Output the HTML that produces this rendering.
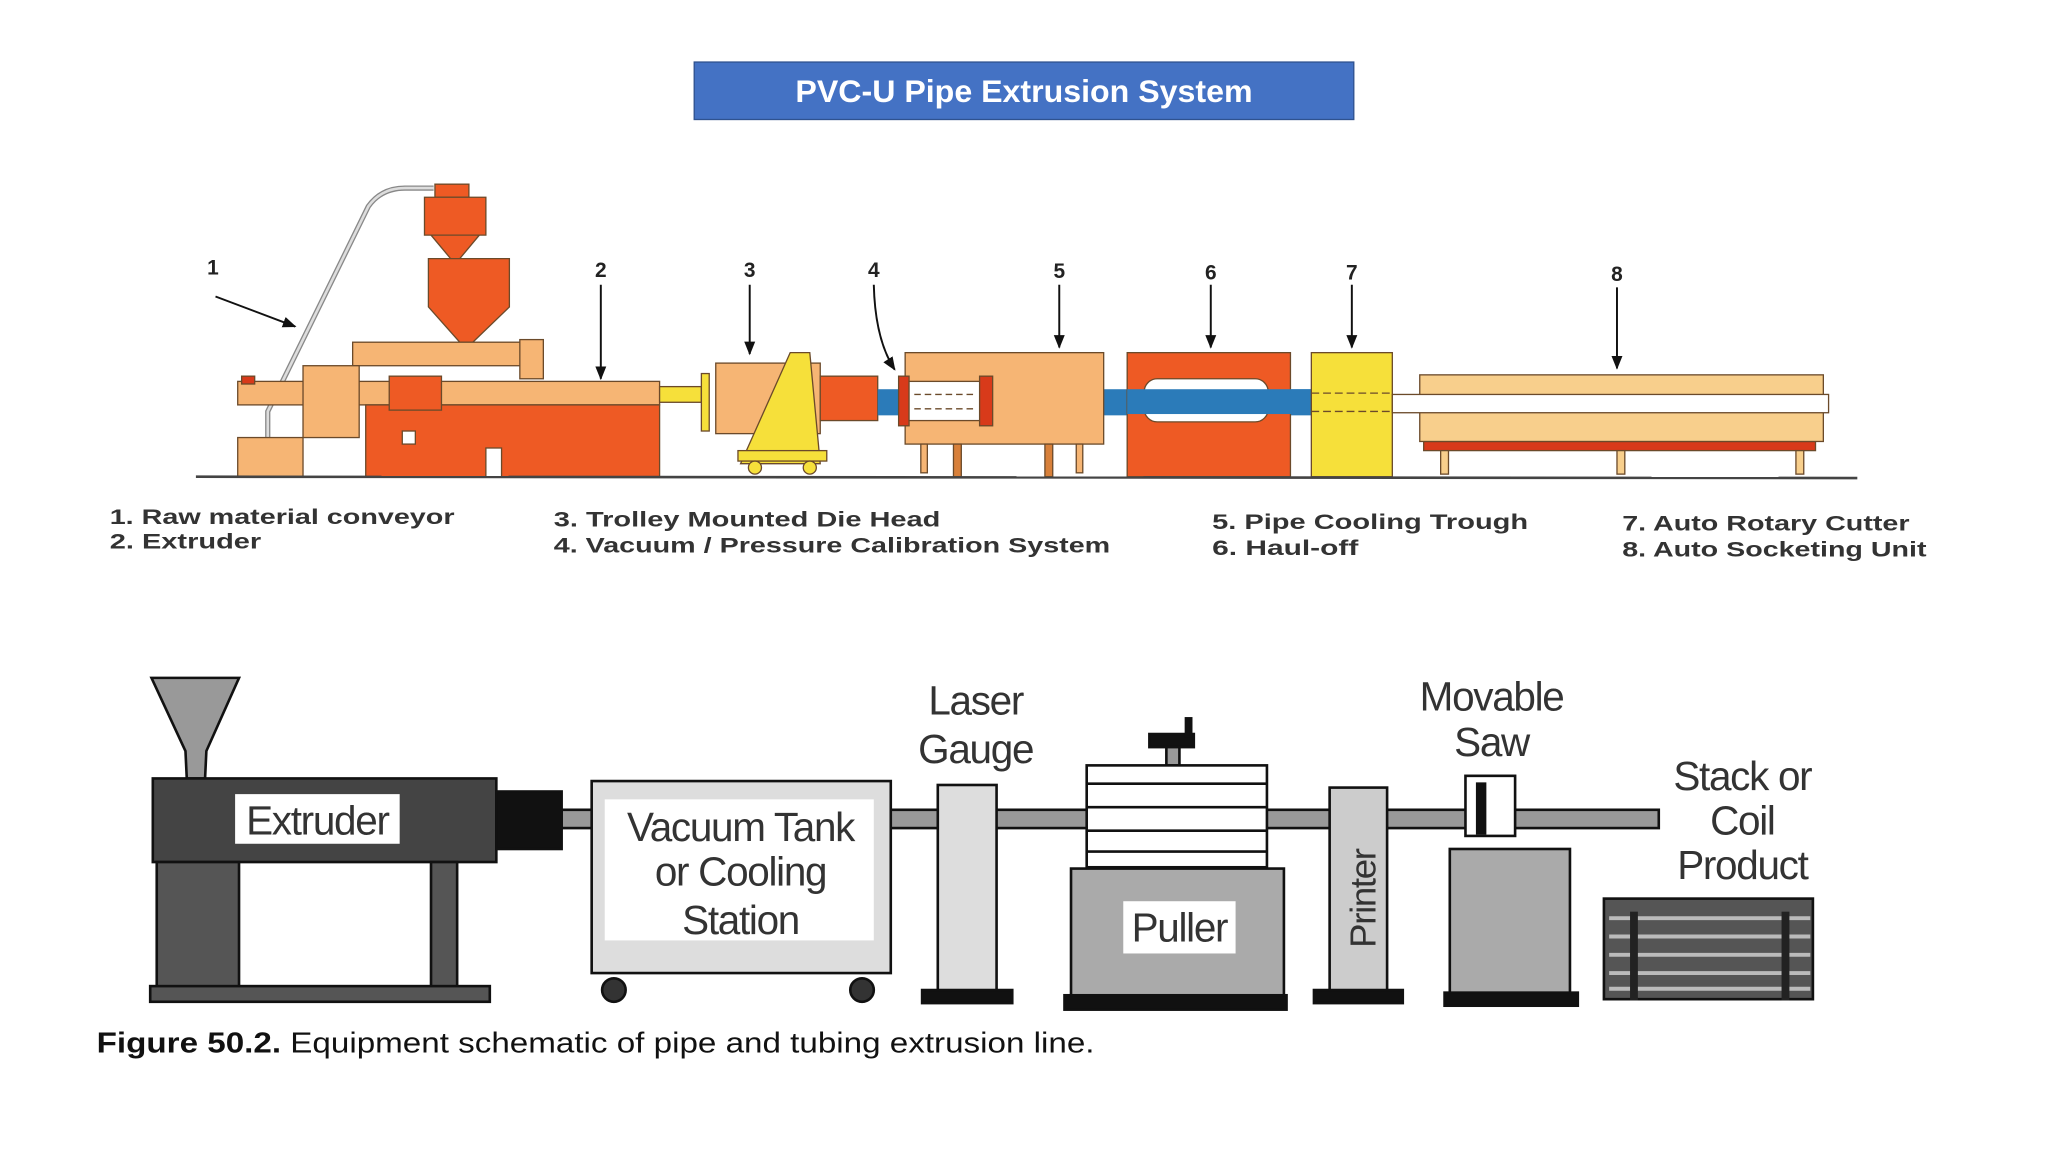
<!DOCTYPE html>
<html><head><meta charset="utf-8"><style>
html,body{margin:0;padding:0;background:#fff;width:2048px;height:1152px;overflow:hidden}
svg{display:block}
text{font-family:"Liberation Sans",Arial,sans-serif}
</style></head><body>
<svg width="2048" height="1152" viewBox="0 0 1568 882" xmlns="http://www.w3.org/2000/svg">
<rect width="1568" height="882" fill="#fff"/>
<rect x="531.5" y="47.5" width="505" height="44" fill="#4472C4" stroke="#2F528F" stroke-width="1"/>
<text x="609" y="78" font-size="24" font-weight="bold" fill="#fff" textLength="350" lengthAdjust="spacingAndGlyphs">PVC-U Pipe Extrusion System</text>

<g stroke="#6b4a2a" stroke-width="1">
<path d="M205,335 L205,315 L282,158 Q292,144 310,144 L332,144" fill="none" stroke="#888" stroke-width="4"/>
<path d="M205,335 L205,315 L282,158 Q292,144 310,144 L332,144" fill="none" stroke="#ddd" stroke-width="2"/>
<rect x="182" y="335" width="50" height="30" fill="#F6B574"/>
<rect x="333" y="141" width="26" height="10" fill="#EE5A24"/>
<path d="M325,151 L372,151 L372,180 L325,180 Z" fill="#EE5A24"/>
<path d="M330,180 L367,180 L352,198 L345,198 Z" fill="#EE5A24"/>
<path d="M328,198 L390,198 L390,235 L362,262 L352,262 L328,235 Z" fill="#EE5A24"/>
<rect x="270" y="262" width="130" height="18" fill="#F6B574"/>
<rect x="398" y="260" width="18" height="30" fill="#F6B574"/>
<rect x="182" y="292" width="323" height="18" fill="#F6B574"/>
<rect x="185" y="288" width="10" height="6" fill="#D83A1A"/>
<rect x="232" y="280" width="43" height="55" fill="#F6B574"/>
<rect x="280" y="310" width="225" height="55" fill="#EE5A24"/>
<rect x="298" y="288" width="40" height="26" fill="#EE5A24"/>
<rect x="308" y="330" width="10" height="10" fill="#fff"/>
<rect x="372" y="343" width="12" height="22" fill="#fff"/>
<rect x="505" y="296" width="32" height="12" fill="#F6E03A"/>
<rect x="537" y="286" width="6" height="44" fill="#F6E03A"/>
<rect x="548" y="278" width="80" height="54" fill="#F6B574"/>
<path d="M605,270 L620,270 L628,355 L567,355 Z" fill="#F6E03A"/>
<rect x="628" y="288" width="44" height="34" fill="#EE5A24"/>
<rect x="565" y="345" width="68" height="8" fill="#F6E03A"/>
<circle cx="578" cy="358" r="5" fill="#F6E03A"/><circle cx="620" cy="358" r="5" fill="#F6E03A"/>
<rect x="672" y="298" width="335" height="20" fill="#2B7BB9" stroke="none"/>
<rect x="693" y="270" width="152" height="70" fill="#F6B574"/>
<rect x="688" y="288" width="8" height="38" fill="#D83A1A"/>
<rect x="696" y="292" width="55" height="30" fill="#fff"/>
<rect x="750" y="288" width="10" height="38" fill="#D83A1A"/>
<line x1="700" y1="302" x2="748" y2="302" stroke-dasharray="5,3"/>
<line x1="700" y1="313" x2="748" y2="313" stroke-dasharray="5,3"/>
<rect x="705" y="340" width="5" height="22" fill="#F6B574"/><rect x="730" y="340" width="6" height="25" fill="#D8803A"/>
<rect x="800" y="340" width="6" height="25" fill="#D8803A"/><rect x="824" y="340" width="5" height="22" fill="#F6B574"/>
<rect x="863" y="270" width="125" height="95" fill="#EE5A24"/>
<rect x="876" y="290" width="95" height="33" rx="10" fill="#fff"/>
<rect x="863" y="298" width="143" height="19" fill="#2B7BB9" stroke="none"/>
<rect x="1004" y="270" width="62" height="95" fill="#F6E03A"/>
<line x1="1004" y1="301" x2="1066" y2="301" stroke-dasharray="6,3"/>
<line x1="1004" y1="315" x2="1066" y2="315" stroke-dasharray="6,3"/>
<rect x="1090" y="338" width="300" height="7" fill="#D83A1A"/>
<rect x="1087" y="287" width="309" height="51" fill="#F8CF8C"/>
<rect x="1066" y="302" width="334" height="14" fill="#fff"/>
<rect x="1103" y="345" width="6" height="18" fill="#F8CF8C"/><rect x="1238" y="345" width="6" height="18" fill="#F8CF8C"/><rect x="1375" y="345" width="6" height="18" fill="#F8CF8C"/>
</g>
<line x1="150" y1="365" x2="1422" y2="366" stroke="#444" stroke-width="2"/>
<g font-size="16" font-weight="bold" fill="#222" text-anchor="middle">
<text x="163" y="210">1</text><text x="460" y="212">2</text><text x="574" y="212">3</text><text x="669" y="212">4</text>
<text x="811" y="213">5</text><text x="927" y="214">6</text><text x="1035" y="214">7</text><text x="1238" y="215">8</text>
</g>
<defs><marker id="ah" viewBox="0 0 10 10" refX="9" refY="5" markerWidth="7" markerHeight="7" orient="auto"><path d="M0,1 L10,5 L0,9 Z" fill="#111"/></marker></defs>
<g stroke="#111" stroke-width="1.5" fill="none" marker-end="url(#ah)">
<path d="M165,227 L226,250"/><path d="M460,218 L460,290"/><path d="M574,218 L574,271"/>
<path d="M669,218 Q670,260 685,283"/><path d="M811,218 L811,266"/><path d="M927,218 L927,266"/>
<path d="M1035,218 L1035,266"/><path d="M1238,220 L1238,282"/>
</g>
<g font-size="16" font-weight="bold" fill="#333">
<text x="84" y="401" textLength="264" lengthAdjust="spacingAndGlyphs">1.  Raw material conveyor</text>
<text x="84" y="420" textLength="116" lengthAdjust="spacingAndGlyphs">2.  Extruder</text>
<text x="424" y="403" textLength="296" lengthAdjust="spacingAndGlyphs">3.  Trolley Mounted Die Head</text>
<text x="424" y="423" textLength="426" lengthAdjust="spacingAndGlyphs">4.  Vacuum / Pressure Calibration System</text>
<text x="928" y="405" textLength="242" lengthAdjust="spacingAndGlyphs">5.  Pipe Cooling Trough</text>
<text x="928" y="425" textLength="112" lengthAdjust="spacingAndGlyphs">6.  Haul-off</text>
<text x="1242" y="406" textLength="220" lengthAdjust="spacingAndGlyphs">7.  Auto Rotary Cutter</text>
<text x="1242" y="426" textLength="233" lengthAdjust="spacingAndGlyphs">8.  Auto Socketing Unit</text>
</g>

<g stroke="#111" stroke-width="2">
<path d="M116,519 L183,519 L158,575 L157,596 L143,596 L142,575 Z" fill="#999"/>
<rect x="430" y="620" width="840" height="14" fill="#999"/>
<rect x="117" y="596" width="263" height="64" fill="#444"/>
<rect x="380" y="606" width="50" height="44" fill="#111"/>
<rect x="120" y="660" width="63" height="100" fill="#555"/>
<rect x="330" y="660" width="20" height="100" fill="#555"/>
<rect x="115" y="755" width="260" height="12" fill="#555"/>
<rect x="453" y="598" width="229" height="147" fill="#ddd"/>
<circle cx="470" cy="758" r="9" fill="#333"/><circle cx="660" cy="758" r="9" fill="#333"/>
<rect x="718" y="601" width="45" height="158" fill="#ddd"/>
<rect x="706" y="758" width="69" height="10" fill="#111"/>
<rect x="880" y="562" width="34" height="10" fill="#111"/><rect x="893" y="572" width="10" height="14" fill="#999"/><rect x="908" y="550" width="4" height="14" fill="#111"/>
<rect x="832" y="586" width="138" height="78" fill="#fff"/>
<line x1="832" y1="600" x2="970" y2="600"/><line x1="832" y1="618" x2="970" y2="618"/><line x1="832" y1="636" x2="970" y2="636"/><line x1="832" y1="652" x2="970" y2="652"/>
<rect x="820" y="665" width="163" height="98" fill="#aaa"/>
<rect x="815" y="762" width="170" height="11" fill="#111"/>
<rect x="1018" y="603" width="44" height="157" fill="#ccc"/>
<rect x="1006" y="758" width="68" height="10" fill="#111"/>
<rect x="1122" y="594" width="38" height="46" fill="#fff"/><rect x="1131" y="600" width="6" height="38" fill="#111"/>
<rect x="1110" y="650" width="92" height="112" fill="#aaa"/>
<rect x="1106" y="760" width="102" height="10" fill="#111"/>
<rect x="1228" y="688" width="160" height="77" fill="#555"/>
</g>
<g stroke="#bbb" stroke-width="3">
<line x1="1232" y1="703" x2="1386" y2="703"/><line x1="1232" y1="717" x2="1386" y2="717"/><line x1="1232" y1="731" x2="1386" y2="731"/><line x1="1232" y1="745" x2="1386" y2="745"/><line x1="1232" y1="757" x2="1386" y2="757"/>
</g>
<rect x="1248" y="698" width="6" height="68" fill="#222"/><rect x="1364" y="698" width="6" height="68" fill="#222"/>
<rect x="180" y="608" width="126" height="38" fill="#fff"/>
<rect x="463" y="612" width="206" height="108" fill="#fff"/>
<rect x="860" y="690" width="86" height="40" fill="#fff"/>
<g font-size="31" fill="#333" text-anchor="middle" letter-spacing="-1">
<text x="243" y="639">Extruder</text>
<text x="567" y="644">Vacuum Tank</text><text x="567" y="678">or Cooling</text><text x="567" y="715">Station</text>
<text x="747" y="547">Laser</text><text x="747" y="584">Gauge</text>
<text x="903" y="721">Puller</text>
<text x="1142" y="544">Movable</text><text x="1142" y="579">Saw</text>
<text x="1334" y="605">Stack or</text><text x="1334" y="639">Coil</text><text x="1334" y="673">Product</text>
<text transform="translate(1053,688) rotate(-90)" font-size="28">Printer</text>
</g>
<text x="74" y="806" font-size="22" fill="#111" textLength="764" lengthAdjust="spacingAndGlyphs"><tspan font-weight="bold">Figure 50.2.</tspan>  Equipment schematic of pipe and tubing extrusion line.</text>
</svg>
</body></html>
